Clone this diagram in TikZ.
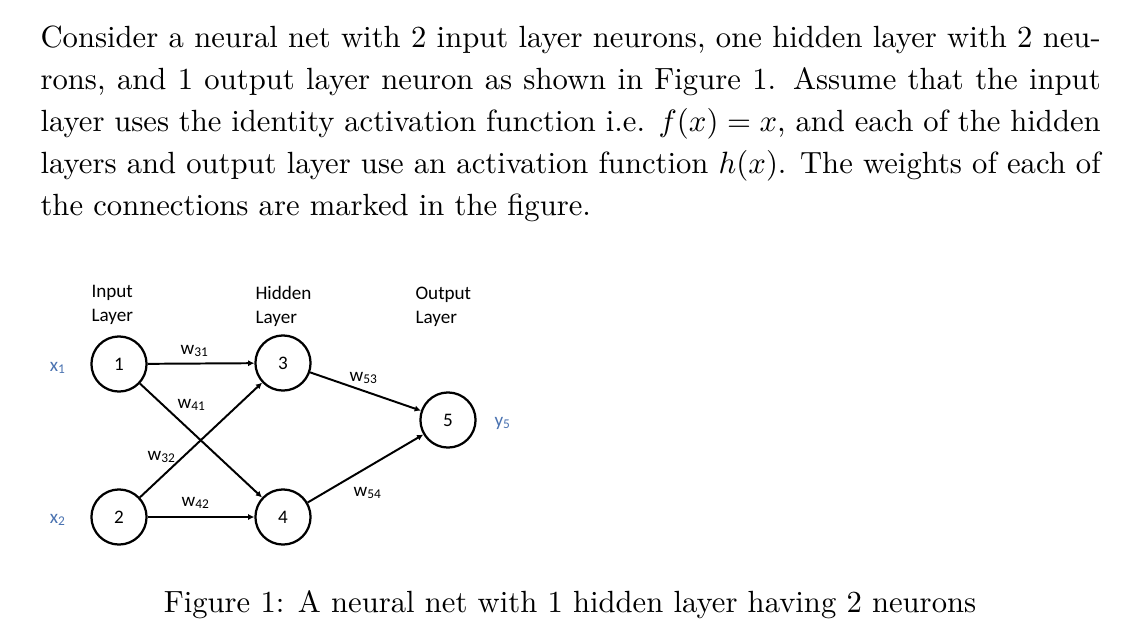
\documentclass[tikz,border=0pt]{standalone}
\usepackage{fontspec}
\newfontfamily\diagfont{Carlito}
\usepackage{amsmath}
\usetikzlibrary{arrows.meta}
\usetikzlibrary{positioning}
\definecolor{signalblue}{HTML}{4A72B0}
\tikzset{
	neuron/.style={draw=black, circle, line width=0.8pt, minimum size=19.6pt, inner sep=0pt,
		font=\diagfont\fontsize{6.8}{8.3}\selectfont},
	layername/.style={anchor=north west, align=left, inner sep=0pt,
		font=\diagfont\fontsize{6.8}{8.3}\selectfont},
	weight/.style={inner sep=0pt, font=\diagfont\fontsize{6.8}{8.3}\selectfont},
	signal/.style={inner sep=0pt, text=signalblue, font=\diagfont\fontsize{6.8}{8.3}\selectfont},
}
\tikzstyle{line} = [draw, line width=0.7pt, -{Latex[length=2.2pt,width=2.2pt]}]

\begin{document}
\begin{tikzpicture}[x=0.3556pt, y=-0.3556pt]
	\useasboundingbox (0,0) rectangle (1135,642);
	\node[anchor=north west, text width=377pt, align=justify, inner sep=0pt,
		font=\fontsize{10.9}{14.93}\selectfont] (intro) at (40,25.8)
		{Consider a neural net with 2 input layer neurons, one hidden layer with 2 neu-\linebreak
		rons, and 1 output layer neuron as shown in Figure 1. Assume that the input\linebreak
		layer uses the identity activation function i.e. $f(x) = x$, and each of the hidden\linebreak
		layers and output layer use an activation function $h(x)$. The weights of each of\linebreak
		the connections are marked in the figure.};
	% layers
	\node[layername] (inlayer) at (91,285) {Input\\Layer};
	\node[layername] (hidlayer) at (255,286) {Hidden\\Layer};
	\node[layername] (outlayer) at (415,287) {Output\\Layer};
	% neurons
	\node[neuron] (n1) at (119,364) {1};
	\node[neuron] (n2) at (119,517) {2};
	\node[neuron] (n3) at (283,363) {3};
	\node[neuron] (n4) at (283,517) {4};
	\node[neuron] (n5) at (448,420) {5};
	\node[signal] (x1) at (58,368) {x\textsubscript{1}};
	\node[signal] (x2) at (58,520) {x\textsubscript{2}};
	\node[signal] (y5) at (503,423) {y\textsubscript{5}};
	% connections
	\draw[line] (n1) -- (n3);
	\draw[line] (n1) -- (n4);
	\draw[line] (n2) -- (n3);
	\draw[line] (n2) -- (n4);
	\draw[line] (n3) -- (n5);
	\draw[line] (n4) -- (n5);
	\node[weight] (w31) at (195,351) {w\textsubscript{31}};
	\node[weight] (w41) at (192,405) {w\textsubscript{41}};
	\node[weight] (w32) at (162,457) {w\textsubscript{32}};
	\node[weight] (w42) at (196,503) {w\textsubscript{42}};
	\node[weight] (w53) at (364,378) {w\textsubscript{53}};
	\node[weight] (w54) at (368,493) {w\textsubscript{54}};
	\node[anchor=base, inner sep=0pt, font=\fontsize{10.9}{12}\selectfont] (caption) at (570,612)
		{Figure 1: A neural net with 1 hidden layer having 2 neurons};
\end{tikzpicture}
\end{document}
